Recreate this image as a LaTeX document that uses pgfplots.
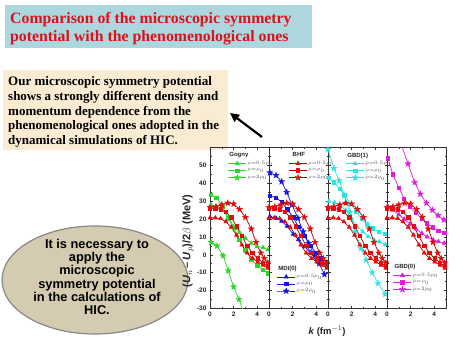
\documentclass[border=0pt]{standalone}
\usepackage{fontspec}
\setmainfont{Liberation Serif}
\setsansfont{Liberation Sans}
\usepackage{pgfplots}
\pgfplotsset{compat=1.18}
\usepackage{pgfplotstable}
\usetikzlibrary{arrows.meta}

\definecolor{titlebg}{RGB}{172,215,223}
\definecolor{titlered}{RGB}{222,16,26}
\definecolor{boxbg}{RGB}{249,236,211}
\definecolor{ellbg}{RGB}{212,203,177}
\definecolor{ellborder}{RGB}{135,135,135}
\definecolor{gog}{RGB}{40,215,40}
\definecolor{mdi}{RGB}{20,20,230}
\definecolor{gbdone}{RGB}{50,225,225}
\definecolor{gbdzero}{RGB}{220,30,220}
\definecolor{bhfred}{RGB}{228,12,12}
\definecolor{bhfdark}{RGB}{165,0,0}

\pgfdeclareplotmark{fstar}{%
 \pgfpathmoveto{\pgfpointpolar{90}{1.35\pgfplotmarksize}}%
 \pgfpathlineto{\pgfpointpolar{126}{0.55\pgfplotmarksize}}%
 \pgfpathlineto{\pgfpointpolar{162}{1.35\pgfplotmarksize}}%
 \pgfpathlineto{\pgfpointpolar{198}{0.55\pgfplotmarksize}}%
 \pgfpathlineto{\pgfpointpolar{234}{1.35\pgfplotmarksize}}%
 \pgfpathlineto{\pgfpointpolar{270}{0.55\pgfplotmarksize}}%
 \pgfpathlineto{\pgfpointpolar{306}{1.35\pgfplotmarksize}}%
 \pgfpathlineto{\pgfpointpolar{342}{0.55\pgfplotmarksize}}%
 \pgfpathlineto{\pgfpointpolar{18}{1.35\pgfplotmarksize}}%
 \pgfpathlineto{\pgfpointpolar{54}{0.55\pgfplotmarksize}}%
 \pgfpathclose
 \pgfusepathqfillstroke}

% ---------- BHF (microscopic) ----------
\pgfplotstableread{
k u
0 20.7
0.45 20.7
0.9 20.3
1.35 18.5
1.8 15.5
2.25 11
2.7 5.5
3.15 1
3.6 -2
4.05 -4
4.5 -5.8
4.9 -7.5
}\bhfA
\pgfplotstableread{
k u
0 26
0.45 26
0.9 25.5
1.35 24
1.8 21
2.25 16
2.7 10.5
3.15 5
3.6 1
4.05 -2
4.5 -4.5
4.9 -6.5
}\bhfB
\pgfplotstableread{
k u
0 26.5
0.5 27
1.0 28
1.5 29
2.0 28.5
2.5 25.5
3.0 21
3.5 14.5
3.9 7
4.3 1
4.6 -2
4.9 -4.5
}\bhfC
% ---------- Gogny ----------
\pgfplotstableread{
k u
0.08 28
0.55 27
1.05 25
1.55 21
2.0 15.8
2.5 12.5
3.0 9.3
3.5 6.5
4.0 4.7
4.5 4
4.9 2.8
}\gogA
\pgfplotstableread{
k u
0.08 33.5
0.55 32
1.05 27
1.55 20.5
2.0 15
2.5 8.5
3.0 2.5
3.5 -2.5
4.0 -6
4.5 -8.5
4.9 -10.4
}\gogB
\pgfplotstableread{
k u
0.1 7
0.6 5
1.1 -0.5
1.55 -9
2.0 -18
2.45 -25
2.9 -33
}\gogC
% ---------- MDI(0) ----------
\pgfplotstableread{
k u
0.08 21.5
0.6 20.5
1.07 18.8
1.54 16
2.05 11.5
2.5 8.5
3.0 4.6
3.5 1.2
4.0 -1.8
4.45 -4
4.9 -5.5
}\mdiA
\pgfplotstableread{
k u
0.08 33
0.6 32
1.07 29.5
1.54 25.5
2.05 21
2.5 15.5
3.0 10.5
3.5 5
4.0 1
4.45 -2
4.9 -4
}\mdiB
\pgfplotstableread{
k u
0.08 46
0.6 44.5
1.07 41
1.5 35
1.95 28
2.45 20.5
2.9 13
3.35 6.5
3.85 -0.5
4.25 -5
4.7 -11
}\mdiC
% ---------- GBD(1) ----------
\pgfplotstableread{
k u
0.08 30
0.55 29.3
1.05 27.5
1.5 25
2.0 20.3
2.45 16
2.95 12.8
3.4 10.2
3.9 8.3
4.35 7.3
4.85 5.7
}\gbdoA
\pgfplotstableread{
k u
0.08 43
0.5 40.5
1.0 37
1.4 33.5
1.9 28.6
2.4 24.3
2.85 20.2
3.3 17
3.8 14.7
4.3 12.8
4.8 11.8
}\gbdoB
\pgfplotstableread{
k u
0.0 59
0.5 48.5
0.95 41.5
1.4 33
1.85 24
2.3 13
2.8 3.5
3.25 -3
3.75 -10
4.25 -16
4.85 -22
}\gbdoC
% ---------- GBD(0) ----------
\pgfplotstableread{
k u
0.08 27
0.5 25
1.0 22.5
1.45 20
1.95 17.2
2.45 14.5
2.95 12
3.4 10
3.9 8.4
4.35 7.4
4.85 6.5
}\gbdzA
\pgfplotstableread{
k u
0.08 54
0.5 45
1.0 37.5
1.45 31.5
1.95 27
2.45 23.5
2.95 20.3
3.4 17.5
3.9 15.3
4.35 13.5
4.85 12.2
}\gbdzB
\pgfplotstableread{
k u
0.35 90
0.8 72
1.25 61
1.78 51
2.35 40.5
2.83 34
3.34 29
3.85 25
4.33 22
4.82 19.6
}\gbdzC

\pgfplotsset{
 panel/.style={
  scale only axis, width=59pt, height=160.6pt, anchor=south west,
  xmin=0, xmax=5, ymin=-30, ymax=60,
  xtick={0,2,4}, minor xtick={1,3},
  ytick={-30,-20,...,50}, minor ytick={-25,-15,...,55},
  tick align=inside, major tick length=2.5pt, minor tick length=1.5pt,
  tick style={black!80, line width=0.5pt},
  axis line style={black!80, line width=0.6pt},
  tick label style={font=\sffamily\bfseries\fontsize{6.5}{7}\selectfont, text=black!85},
  /pgf/number format/assume math mode=true,
  legend image code/.code={\draw[mark repeat=2,mark phase=2,##1] plot coordinates {(0pt,0pt) (9pt,0pt) (18pt,0pt)};},
  legend style={draw=none, fill=none, font=\fontsize{5}{5}\selectfont, text=black!70,
    row sep=1.2pt, inner sep=0pt, nodes={inner sep=0.8pt}, cells={anchor=west}},
 },
 tri/.style={mark=triangle*, mark size=2.2pt, line width=0.7pt},
 sq/.style={mark=square*, mark size=1.7pt, line width=0.7pt},
 st/.style={mark=fstar, mark size=2.4pt, line width=0.7pt, every mark/.append style={line width=0.3pt}},
 bhf/.style={draw=bhfdark, line width=0.5pt, every mark/.append style={fill=bhfred, draw=bhfred}},
}
\newcommand{\legtitle}[1]{\hspace*{-18pt}{\sffamily\bfseries\fontsize{6}{6}\selectfont\color{black!85}#1}}
\newcommand{\bhfplots}{%
 \addplot[bhf,tri,forget plot] table {\bhfA};
 \addplot[bhf,sq,forget plot] table {\bhfB};
 \addplot[bhf,st,forget plot] table {\bhfC};}

\begin{document}
\begin{tikzpicture}
\path[use as bounding box] (0,0) rectangle (474pt,355pt);
\fill[white] (0,0) rectangle (474pt,355pt);
% title
\fill[titlebg] (5pt,307pt) rectangle (312pt,350pt);
\node[anchor=west, align=left, text=titlered, font=\fontsize{15.8}{18.5}\selectfont\bfseries, inner sep=0pt]
  at (10pt,326.5pt) {Comparison of the microscopic symmetry\\potential with the phenomenological ones};
% box
\fill[boxbg] (3pt,205pt) rectangle (228pt,285pt);
\node[anchor=west, align=left, font=\fontsize{13}{14.75}\selectfont\bfseries, inner sep=0pt]
  at (8pt,243pt) {Our microscopic symmetry potential\\shows a strongly different density and\\momentum dependence from the\\phenomenological ones adopted in the\\dynamical simulations of HIC.};
% arrow
\draw[line width=2.2pt, -{Triangle[length=9pt,width=8.5pt]}] (262pt,218pt) -- (230pt,242pt);
% ellipse
\draw[fill=ellbg, draw=ellborder, line width=1.2pt] (95pt,75pt) ellipse [x radius=93pt, y radius=54pt];
\node[align=center, font=\sffamily\bfseries\fontsize{12.8}{13.2}\selectfont, inner sep=0pt]
  at (97pt,78pt) {It is necessary to\\apply the\\microscopic\\symmetry potential\\in the calculations of\\HIC.};

% axis labels
\node[rotate=90, font=\sffamily\bfseries\fontsize{11}{12}\selectfont, text=black!85] at (188pt,114pt)
  {(\textit{U}$_{n}$\,--\,\textit{U}$_{p}$)/2$\beta$ (MeV)};
\node[font=\sffamily\bfseries\fontsize{9.5}{11}\selectfont, text=black!85] at (327pt,24pt) {\textit{k} (fm$^{-1}$)};

% ---- Panel 1: Gogny
\begin{axis}[panel, at={(210pt,46.7pt)}, legend style={at={(0.3,0.975)}, anchor=north west}]
\addlegendimage{empty legend}\addlegendentry{\legtitle{Gogny}}
\addplot[color=gog,tri] table {\gogA}; \addlegendentry{$\rho{=}0.5\rho_0$}
\addplot[color=gog,sq] table {\gogB}; \addlegendentry{$\rho{=}\rho_0$}
\addplot[color=gog,st] table {\gogC}; \addlegendentry{$\rho{=}2\rho_0$}
\bhfplots
\end{axis}

% ---- Panel 2: MDI(0) + BHF
\begin{axis}[panel, at={(269pt,46.7pt)}, yticklabels={}, legend style={at={(0.13,0.27)}, anchor=north west}]
\addlegendimage{empty legend}\addlegendentry{\legtitle{MDI(0)}}
\addplot[color=mdi,tri] table {\mdiA}; \addlegendentry{$\rho{=}0.5\rho_0$}
\addplot[color=mdi,sq] table {\mdiB}; \addlegendentry{$\rho{=}\rho_0$}
\addplot[color=mdi,st] table {\mdiC}; \addlegendentry{$\rho{=}2\rho_0$}
\bhfplots
\end{axis}
\begin{axis}[panel, at={(269pt,46.7pt)}, hide axis, legend style={at={(0.33,0.975)}, anchor=north west}]
\addlegendimage{empty legend}\addlegendentry{\legtitle{BHF}}
\addlegendimage{bhf,tri}\addlegendentry{$\rho{=}0.5\rho_0$}
\addlegendimage{bhf,sq}\addlegendentry{$\rho{=}\rho_0$}
\addlegendimage{bhf,st}\addlegendentry{$\rho{=}2\rho_0$}
\end{axis}

% ---- Panel 3: GBD(1)
\begin{axis}[panel, at={(328pt,46.7pt)}, yticklabels={}, legend style={at={(0.3,0.975)}, anchor=north west}]
\addlegendimage{empty legend}\addlegendentry{\legtitle{GBD(1)}}
\addplot[color=gbdone,tri] table {\gbdoA}; \addlegendentry{$\rho{=}0.5\rho_0$}
\addplot[color=gbdone,sq] table {\gbdoB}; \addlegendentry{$\rho{=}\rho_0$}
\addplot[color=gbdone,st] table {\gbdoC}; \addlegendentry{$\rho{=}2\rho_0$}
\bhfplots
\end{axis}

% ---- Panel 4: GBD(0)
\begin{axis}[panel, at={(387pt,46.7pt)}, yticklabels={}, legend style={at={(0.1,0.28)}, anchor=north west}]
\addlegendimage{empty legend}\addlegendentry{\legtitle{GBD(0)}}
\addplot[color=gbdzero,tri] table {\gbdzA}; \addlegendentry{$\rho{=}0.5\rho_0$}
\addplot[color=gbdzero,sq] table {\gbdzB}; \addlegendentry{$\rho{=}\rho_0$}
\addplot[color=gbdzero,st] table {\gbdzC}; \addlegendentry{$\rho{=}2\rho_0$}
\bhfplots
\end{axis}
\end{tikzpicture}
\end{document}
